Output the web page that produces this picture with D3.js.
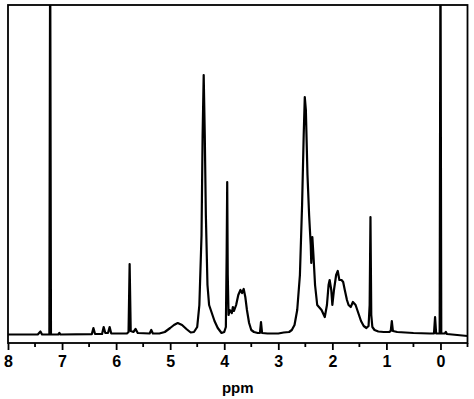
<!DOCTYPE html>
<html><head><meta charset="utf-8">
<script src="https://cdn.jsdelivr.net/npm/d3@7"></script>
<style>body{margin:0;background:#fff}svg{display:block}</style>
</head><body>
<script>
// chemical shift (ppm) and intensity
const shifts = [8.0,7.45,7.40,7.37,7.235,7.22,7.205,7.07,7.05,7.03,6.45,6.42,6.39,6.26,6.23,6.20,6.15,6.12,6.09,5.80,5.77,5.75,5.73,5.68,5.64,5.60,5.38,5.35,5.32,5.20,5.10,5.00,4.93,4.86,4.78,4.70,4.62,4.56,4.50,4.46,4.42,4.40,4.38,4.36,4.34,4.31,4.28,4.23,4.18,4.12,4.05,4.00,3.97,3.955,3.945,3.935,3.92,3.90,3.86,3.84,3.82,3.78,3.74,3.70,3.67,3.64,3.61,3.58,3.54,3.50,3.45,3.38,3.34,3.32,3.30,3.20,3.00,2.90,2.80,2.75,2.70,2.65,2.60,2.56,2.53,2.51,2.49,2.46,2.43,2.40,2.39,2.37,2.35,2.32,2.28,2.20,2.14,2.10,2.07,2.05,2.02,2.00,1.97,1.93,1.90,1.87,1.83,1.80,1.77,1.73,1.70,1.66,1.62,1.57,1.52,1.47,1.42,1.37,1.33,1.31,1.295,1.28,1.26,1.22,1.15,1.05,0.95,0.92,0.90,0.88,0.80,0.50,0.20,0.12,0.10,0.08,0.015,0.00,-0.015,-0.08,-0.10,-0.12,-0.50];
const intensities = [0.5,0.5,3.5,0.5,0.5,400,0.5,0.5,2,0.5,0.8,7,1,1,8,2,2,8,1.5,1.5,3,71,4,3,6,2,1.5,5,1.5,1.5,3,7,10,12,10,6,2.5,3,8,30,100,200,260,200,120,50,30,22,14,7,2,3,8,82,153,60,20,25,22,28,24,30,40,45,42,46,38,25,12,5,3,2,2,13,2,1.5,1.5,2.5,3,5,10,25,60,130,200,238,225,160,120,90,72,98,80,50,30,25,18,30,50,55,45,30,45,60,64,55,55,53,45,35,30,28,33,30,22,14,9,7,9,30,118,20,8,5,3.5,3,3,4,14,4,3,2,1.5,1.5,18,1.5,1.5,400,1.5,1.5,3,1,-1];
const xTicks = [8,7,6,5,4,3,2,1,0];
const xMinorTicks = [7.5,6.5,5.5,4.5,3.5,2.5,1.5,0.5,-0.5];
const xLabel = "ppm";

const W = 474, H = 399;
const svg = d3.select("body").append("svg").attr("width", W).attr("height", H);
const mLeft = 8, mRight = 467.5, mTop = 5, mBottom = 343;

const x = d3.scaleLinear().domain([8, -0.5]).range([mLeft, mRight]);
const y = d3.scaleLinear().domain([-8, 330]).range([mBottom, mTop]);

svg.append("clipPath").attr("id", "clip")
  .append("rect").attr("x", mLeft).attr("y", mTop).attr("width", mRight - mLeft).attr("height", mBottom - mTop);

const pts = shifts.map((s, i) => [s, intensities[i]]);
const line = d3.line().x(d => x(d[0])).y(d => y(d[1]));

svg.append("path").datum(pts)
  .attr("clip-path", "url(#clip)")
  .attr("d", line)
  .attr("fill", "none").attr("stroke", "#000").attr("stroke-width", 2.2)
  .attr("stroke-linejoin", "round");

// frame
svg.append("rect").attr("x", mLeft).attr("y", mTop).attr("width", mRight - mLeft).attr("height", mBottom - mTop)
  .attr("fill", "none").attr("stroke", "#000").attr("stroke-width", 1.8);

// axis
const ax = svg.append("g").attr("transform", `translate(0,${mBottom})`)
  .call(d3.axisBottom(x).tickValues(xTicks).tickSize(7).tickPadding(6).tickFormat(d3.format("d")));
ax.select(".domain").remove();
ax.selectAll("line").attr("stroke", "#000").attr("stroke-width", 1.8);
ax.selectAll("text").attr("font-family", "Liberation Sans, Arial, sans-serif")
  .attr("font-size", 16).attr("font-weight", "bold").attr("fill", "#000");

svg.append("g").attr("transform", `translate(0,${mBottom})`)
  .selectAll("line").data(xMinorTicks).join("line")
  .attr("x1", d => x(d)).attr("x2", d => x(d)).attr("y1", 0).attr("y2", 4)
  .attr("stroke", "#000").attr("stroke-width", 1.8);

svg.append("text").attr("x", (mLeft + mRight) / 2).attr("y", 393)
  .attr("text-anchor", "middle")
  .attr("font-family", "Liberation Sans, Arial, sans-serif")
  .attr("font-size", 15).attr("font-weight", "bold").text(xLabel);
</script>
</body></html>
